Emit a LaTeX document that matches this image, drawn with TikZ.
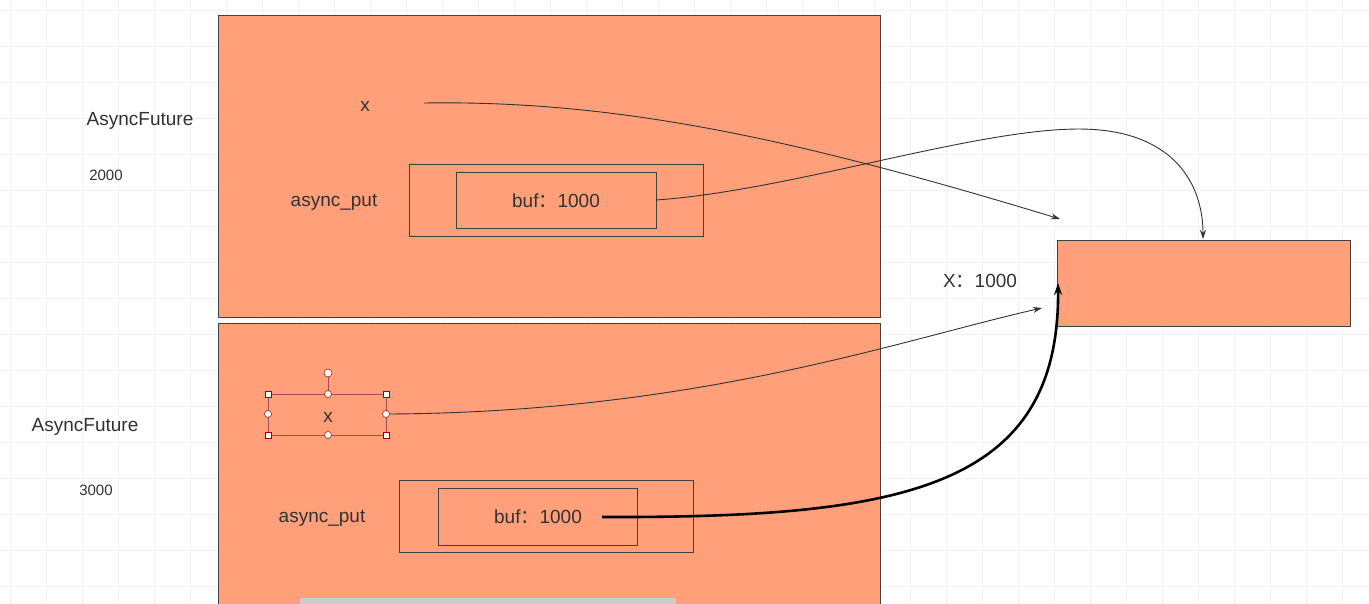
\documentclass[tikz,border=0pt]{standalone}
\usepackage{fontspec}
\setmainfont{Liberation Sans}
\newfontfamily\cjk{Noto Sans CJK SC}
\usetikzlibrary{arrows.meta}
\definecolor{salmon}{RGB}{255,160,122}
\definecolor{txt}{RGB}{50,50,50}
\tikzset{
 big/.style={draw=black!75,fill=salmon,line width=1pt},
 inner/.style={draw=black!75,line width=1pt},
 lbl/.style={text=txt,font=\fontsize{19}{19}\selectfont,inner sep=0},
 sm/.style={text=txt,font=\fontsize{15}{15}\selectfont,inner sep=0},
 con/.style={draw=black!80,line width=0.9pt,-{Stealth[length=9pt,width=6pt]}},
 handle/.style={draw=red!60!black,fill=white,line width=0.5pt,inner sep=0,minimum size=6pt},
}
\begin{document}
\begin{tikzpicture}[x=1pt,y=-1pt]
\useasboundingbox (0,0) rectangle (1369,604);
\fill[white] (0,0) rectangle (1369,604);
\foreach \i in {0,...,38} \draw[black!5,line width=0.4pt] (\i*36+10,0) -- (\i*36+10,604);
\foreach \i in {0,...,17} \draw[black!5,line width=0.4pt] (0,\i*36+10) -- (1369,\i*36+10);
% boxes
\draw[big] (218,16) rectangle (880,317);
\draw[big] (218,323) -- (218,604) (880,604) -- (880,323) -- (218,323);
\fill[salmon] (218.5,323.5) rectangle (879.5,604);
\draw[big] (218,323) -- (218,604) (880,604) -- (880,323) -- (218,323);
\draw[big] (1057,241) rectangle (1350,326);
\node[lbl] (af1) at (140,121) {AsyncFuture};
\node[sm] (n1) at (106,175) {2000};
\node[lbl] (af2) at (85,427) {AsyncFuture};
\node[sm] (n2) at (96,490) {3000};
\node[lbl] (x1) at (365,106) {x};
\node[lbl] (ap1) at (334,202) {async\_put};
\draw[inner] (409,165) rectangle (703,237);
\draw[inner] (456,173) rectangle (656,229);
\node[lbl] (b1) at (556,201) {buf{\cjk：}1000};
\node[lbl] (ap2) at (322,518) {async\_put};
\draw[inner] (399,480) rectangle (693,552);
\draw[inner] (438,488) rectangle (637,545);
\node[lbl] (b2) at (538,517) {buf{\cjk：}1000};
\node[lbl] (X) at (980,281) {X{\cjk：}1000};
% selected x
\node[lbl] (x2) at (328,417) {x};
\draw[red!50!black!70,line width=0.5pt] (268,394) rectangle (386,435);
\draw[red!50!black!70,line width=0.5pt] (328,373) -- (328,394);
\node[handle,rectangle] at (268,394) {};\node[handle,rectangle] at (386,394) {};
\node[handle,rectangle] at (268,435) {};\node[handle,rectangle] at (386,435) {};
\node[handle,circle,minimum size=7pt] at (328,394) {};\node[handle,circle,minimum size=7pt] at (328,435) {};
\node[handle,circle,minimum size=7pt] at (268,414) {};\node[handle,circle,minimum size=7pt] (hr) at (386,414) {};
\node[handle,circle,minimum size=8pt] at (328,373) {};
% connectors
\coordinate (t1) at (1060,219);
\coordinate (s1) at (424,103);
\draw[con] (s1) .. controls (620,100) and (800,140) .. (t1);
\coordinate (s2) at (656,200);
\coordinate (t2) at (1203,239);
\draw[con] (s2) .. controls (800,190) and (1000,120) .. (1100,130) .. controls (1180,138) and (1203,190) .. (t2);
\coordinate (t3) at (1042,308);
\draw[con] (hr.east) .. controls (700,412) and (900,340) .. (t3);
\coordinate (t4) at (1058,283);
\draw[line width=2.6pt,-{Stealth[length=12pt,width=8pt]}] (b2.east) ++(20,0) -- ++(0,0) .. controls (900,518) and (1060,490) .. (t4);
% scrollbar
\fill[black!20] (300,598) rectangle (676,604);
\end{tikzpicture}
\end{document}
